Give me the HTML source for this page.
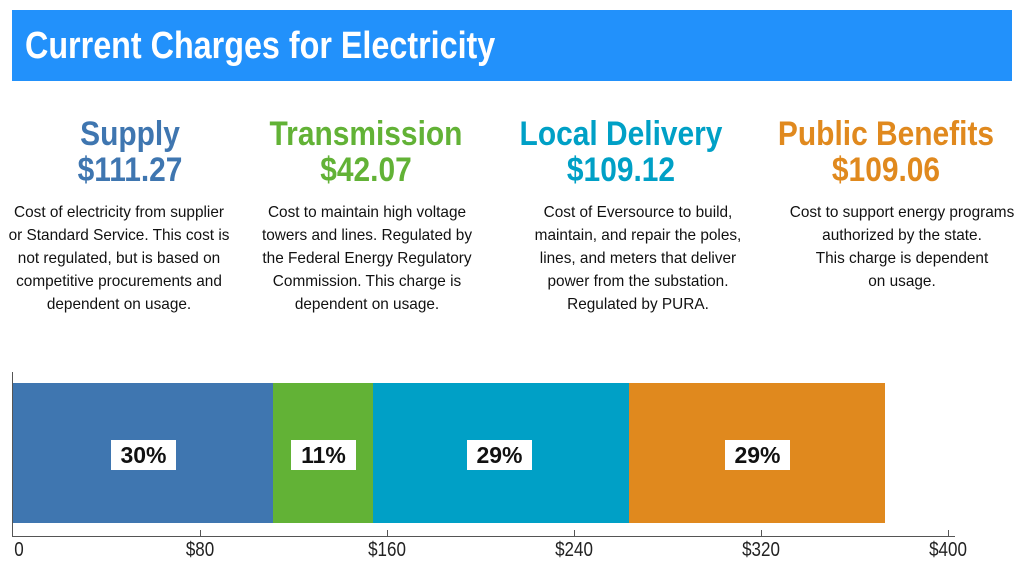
<!DOCTYPE html>
<html><head><meta charset="utf-8"><style>
body{margin:0;width:1024px;height:576px;background:#fff;position:relative;overflow:hidden;font-family:"Liberation Sans",Arial,sans-serif}
.a{position:absolute;white-space:nowrap}
.c{transform:translateX(-50%) scaleX(.88);transform-origin:center top;text-align:center}
.h{font-weight:bold;font-size:34px;line-height:36px}
.d{font-size:16px;line-height:23px;color:#111;transform:translateX(-50%) scaleX(.96)}
.lab{position:absolute;top:440px;width:65px;height:30px;background:#fff;font-weight:bold;font-size:23px;line-height:30px;text-align:center;color:#111}
.t{position:absolute;top:539px;font-size:20px;color:#222;transform:translateX(-50%) scaleX(.85)}
.tk{position:absolute;top:530px;width:1px;height:7px;background:#555}
</style></head><body>
<div class="a" style="left:12px;top:10px;width:1000px;height:71px;background:#2291fb"></div>
<div class="a" style="left:25px;top:23px;color:#fff;font-weight:bold;font-size:38px;line-height:46px;transform:scaleX(.85);transform-origin:left top">Current Charges for Electricity</div>

<div class="a c h" style="left:130px;top:116px;color:#3f76b0">Supply<br>$111.27</div>
<div class="a c h" style="left:366px;top:116px;color:#62b236">Transmission<br>$42.07</div>
<div class="a c h" style="left:621px;top:116px;color:#00a0c6">Local Delivery<br>$109.12</div>
<div class="a c h" style="left:886px;top:116px;color:#e0891e">Public Benefits<br>$109.06</div>

<div class="a c d" style="left:119px;top:201px">Cost of electricity from supplier<br>or Standard Service. This cost is<br>not regulated, but is based on<br>competitive procurements and<br>dependent on usage.</div>
<div class="a c d" style="left:367px;top:201px">Cost to maintain high voltage<br>towers and lines. Regulated by<br>the Federal Energy Regulatory<br>Commission. This charge is<br>dependent on usage.</div>
<div class="a c d" style="left:638px;top:201px">Cost of Eversource to build,<br>maintain, and repair the poles,<br>lines, and meters that deliver<br>power from the substation.<br>Regulated by PURA.</div>
<div class="a c d" style="left:902px;top:201px">Cost to support energy programs<br>authorized by the state.<br>This charge is dependent<br>on usage.</div>

<div class="a" style="left:12px;top:372px;width:1px;height:165px;background:#555"></div>
<div class="a" style="left:12px;top:536px;width:943px;height:1px;background:#555"></div>
<div class="a" style="left:13px;top:383px;width:260px;height:140px;background:#3f76b0"></div>
<div class="a" style="left:273px;top:383px;width:100px;height:140px;background:#62b236"></div>
<div class="a" style="left:373px;top:383px;width:256px;height:140px;background:#00a0c6"></div>
<div class="a" style="left:629px;top:383px;width:256px;height:140px;background:#e0891e"></div>
<div class="lab" style="left:111px">30%</div>
<div class="lab" style="left:291px">11%</div>
<div class="lab" style="left:467px">29%</div>
<div class="lab" style="left:725px">29%</div>

<div class="tk" style="left:200px"></div><div class="tk" style="left:387px"></div><div class="tk" style="left:574px"></div><div class="tk" style="left:761px"></div><div class="tk" style="left:948px"></div>
<div class="t" style="left:19px">0</div>
<div class="t" style="left:200px">$80</div>
<div class="t" style="left:387px">$160</div>
<div class="t" style="left:574px">$240</div>
<div class="t" style="left:761px">$320</div>
<div class="t" style="left:948px">$400</div>
</body></html>
